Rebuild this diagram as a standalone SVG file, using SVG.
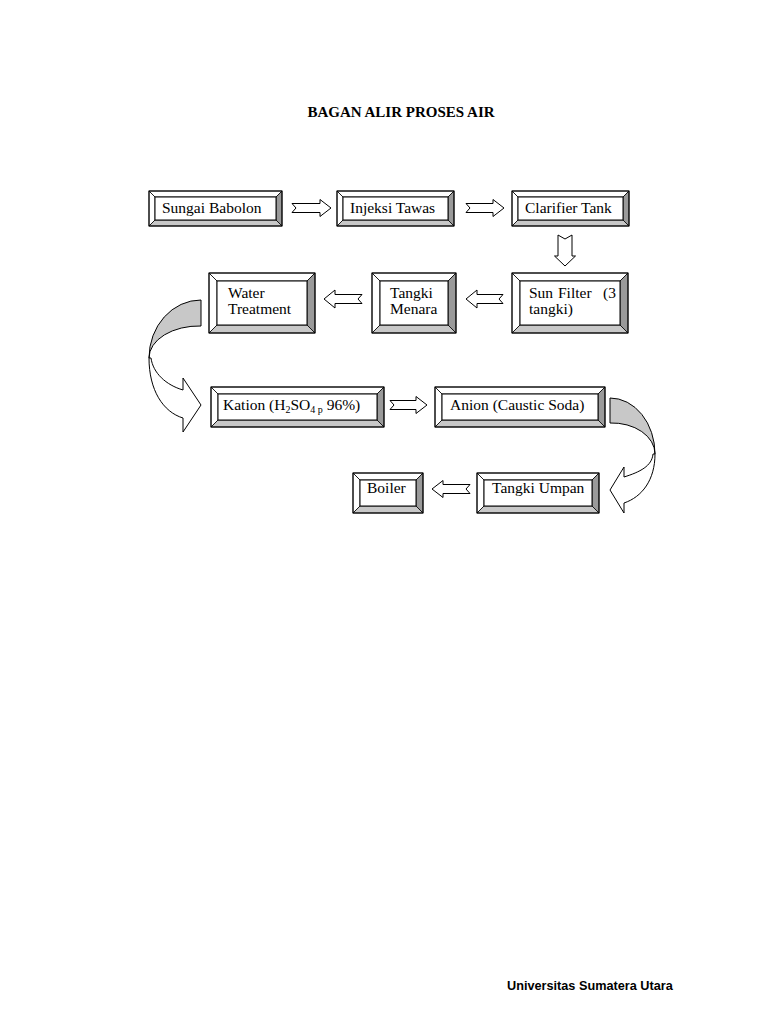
<svg xmlns="http://www.w3.org/2000/svg" width="768" height="1024" viewBox="0 0 768 1024">
<style>
.o{fill:none;stroke:#000;stroke-width:1}
.in{fill:#fff;stroke:#000;stroke-width:1}
.w{fill:#fff;stroke:#000;stroke-width:0.8}
.dk{fill:#9a9a9a;stroke:#000;stroke-width:0.8}
.lt{fill:#c8c8c8;stroke:#000;stroke-width:0.8}
.t{font-family:"Liberation Serif","Times New Roman",serif;font-size:15.5px;fill:#000}
.ar{fill:#fff;stroke:#000;stroke-width:1;stroke-linejoin:miter}
.cg{fill:#c8c8c8;stroke:#000;stroke-width:1}
</style>
<rect width="768" height="1024" fill="#fff"/>
<text x="401" y="117" text-anchor="middle" style="font-family:'Liberation Serif','Times New Roman',serif;font-size:15px;font-weight:bold">BAGAN ALIR PROSES AIR</text>

<g id="n1">
<polygon class="w" points="149,191 282,191 276,197 155,197"/>
<polygon class="w" points="149,191 155,197 155,220 149,226"/>
<polygon class="dk" points="282,191 282,226 276,220 276,197"/>
<polygon class="lt" points="149,226 282,226 276,220 155,220"/>
<rect class="in" x="155" y="197" width="121" height="23"/>
<rect class="o" x="149" y="191" width="133" height="35"/>
<text class="t" x="162" y="213">Sungai Babolon</text>
</g>
<g id="n2">
<polygon class="w" points="337,191 454,191 448,197 343,197"/>
<polygon class="w" points="337,191 343,197 343,220 337,226"/>
<polygon class="dk" points="454,191 454,226 448,220 448,197"/>
<polygon class="lt" points="337,226 454,226 448,220 343,220"/>
<rect class="in" x="343" y="197" width="105" height="23"/>
<rect class="o" x="337" y="191" width="117" height="35"/>
<text class="t" x="350" y="213">Injeksi Tawas</text>
</g>
<g id="n3">
<polygon class="w" points="512,191 629,191 623,197 518,197"/>
<polygon class="w" points="512,191 518,197 518,220 512,226"/>
<polygon class="dk" points="629,191 629,226 623,220 623,197"/>
<polygon class="lt" points="512,226 629,226 623,220 518,220"/>
<rect class="in" x="518" y="197" width="105" height="23"/>
<rect class="o" x="512" y="191" width="117" height="35"/>
<text class="t" x="525" y="213">Clarifier Tank</text>
</g>
<g id="n4">
<polygon class="w" points="209,273 315,273 307,281 217,281"/>
<polygon class="w" points="209,273 217,281 217,325 209,333"/>
<polygon class="dk" points="315,273 315,333 307,325 307,281"/>
<polygon class="lt" points="209,333 315,333 307,325 217,325"/>
<rect class="in" x="217" y="281" width="90" height="44"/>
<rect class="o" x="209" y="273" width="106" height="60"/>
<text class="t" x="228" y="298">Water</text>
<text class="t" x="228" y="314">Treatment</text>
</g>
<g id="n5">
<polygon class="w" points="372,273 456,273 448,281 380,281"/>
<polygon class="w" points="372,273 380,281 380,325 372,333"/>
<polygon class="dk" points="456,273 456,333 448,325 448,281"/>
<polygon class="lt" points="372,333 456,333 448,325 380,325"/>
<rect class="in" x="380" y="281" width="68" height="44"/>
<rect class="o" x="372" y="273" width="84" height="60"/>
<text class="t" x="390" y="298">Tangki</text>
<text class="t" x="390" y="314">Menara</text>
</g>
<g id="n6">
<polygon class="w" points="512,273 628,273 620,281 520,281"/>
<polygon class="w" points="512,273 520,281 520,325 512,333"/>
<polygon class="dk" points="628,273 628,333 620,325 620,281"/>
<polygon class="lt" points="512,333 628,333 620,325 520,325"/>
<rect class="in" x="520" y="281" width="100" height="44"/>
<rect class="o" x="512" y="273" width="116" height="60"/>
<text class="t" y="298"><tspan x="529">Sun</tspan><tspan x="558">Filter</tspan><tspan x="603">(3</tspan></text>
<text class="t" x="529" y="314">tangki)</text>
</g>
<g id="n7">
<polygon class="w" points="211,387 384,387 377,394 218,394"/>
<polygon class="w" points="211,387 218,394 218,420 211,427"/>
<polygon class="dk" points="384,387 384,427 377,420 377,394"/>
<polygon class="lt" points="211,427 384,427 377,420 218,420"/>
<rect class="in" x="218" y="394" width="159" height="26"/>
<rect class="o" x="211" y="387" width="173" height="40"/>
<text class="t" x="223" y="410">Kation (H<tspan font-size="10" dy="3">2</tspan><tspan dy="-3">SO</tspan><tspan font-size="10" dy="3">4 p</tspan><tspan dy="-3"> 96%)</tspan></text>
</g>
<g id="n8">
<polygon class="w" points="435,387 605,387 598,394 442,394"/>
<polygon class="w" points="435,387 442,394 442,420 435,427"/>
<polygon class="dk" points="605,387 605,427 598,420 598,394"/>
<polygon class="lt" points="435,427 605,427 598,420 442,420"/>
<rect class="in" x="442" y="394" width="156" height="26"/>
<rect class="o" x="435" y="387" width="170" height="40"/>
<text class="t" x="450" y="410">Anion (Caustic Soda)</text>
</g>
<g id="n9">
<polygon class="w" points="353,473 423,473 416,480 360,480"/>
<polygon class="w" points="353,473 360,480 360,506 353,513"/>
<polygon class="dk" points="423,473 423,513 416,506 416,480"/>
<polygon class="lt" points="353,513 423,513 416,506 360,506"/>
<rect class="in" x="360" y="480" width="56" height="26"/>
<rect class="o" x="353" y="473" width="70" height="40"/>
<text class="t" x="367" y="493">Boiler</text>
</g>
<g id="n10">
<polygon class="w" points="477,473 599,473 592,480 484,480"/>
<polygon class="w" points="477,473 484,480 484,506 477,513"/>
<polygon class="dk" points="599,473 599,513 592,506 592,480"/>
<polygon class="lt" points="477,513 599,513 592,506 484,506"/>
<rect class="in" x="484" y="480" width="108" height="26"/>
<rect class="o" x="477" y="473" width="122" height="40"/>
<text class="t" x="492" y="493">Tangki Umpan</text>
</g>

<g id="connectors">
<polygon class="ar" points="292,203.5 320,203.5 320,199.5 331,208 320,216.5 320,212.5 292,212.5 296,208"/>
<polygon class="ar" points="466,203.5 493,203.5 493,199.5 504,208 493,216.5 493,212.5 466,212.5 470,208"/>
<polygon class="ar" points="558,235 565,239 572,235 572,256 575.5,256 565,266 554.5,256 558,256"/>
<polygon class="ar" points="362,294.5 335,294.5 335,290 324,299 335,308 335,303.5 362,303.5 358,299"/>
<polygon class="ar" points="503,294.5 477,294.5 477,290 466,299 477,308 477,303.5 503,303.5 499,299"/>
<polygon class="ar" points="390,400.5 416,400.5 416,396.5 427,405 416,413.5 416,409.5 390,409.5 394,405"/>
<polygon class="ar" points="470,484.5 443,484.5 443,480.5 432,489 443,497.5 443,493.5 470,493.5 466,489"/>
<path class="ar" d="M149,358 C149,390 163,412 183,418 L183,432 L201,405 L183,378 L183,390 C166,385 153,373 151,358 Z"/>
<path class="cg" d="M201,300 A52,58 0 0 0 149,358 A50,32 0 0 1 201,326 Z"/>
<path class="ar" d="M655,454 C655,480 642,497 624,503 L624,513 L610,490 L624,467 L624,477 C640,472 652,466 653,454 Z"/>
<path class="cg" d="M610,398 A45,56 0 0 1 655,454 A43,31 0 0 0 610,423 Z"/>
</g>

<text x="507" y="990" style="font-family:'Liberation Sans',Arial,sans-serif;font-size:12.7px;font-weight:bold">Universitas Sumatera Utara</text>
</svg>
